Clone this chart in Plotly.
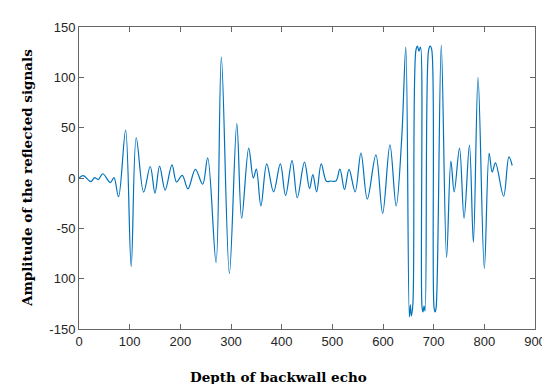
import plotly.graph_objects as go

# Depth (x) and amplitude (y) of the reflected signal, read at the turning points
depth = [0, 8.5, 23, 31, 38, 47, 62, 69, 78, 92, 103, 113, 127.5, 140.6, 150, 159, 170,
         183.5, 192.6, 203.7, 215, 229.7, 244, 254, 270.5, 281, 296.8, 311.5, 321, 335,
         344, 350, 359, 370.5, 384, 397.4, 407.7, 420.5, 430.8, 445, 455, 461.5, 469,
         478, 488.5, 497, 507, 515, 524, 533, 545, 556.5, 569, 586, 599.3, 613.7, 626,
         637, 645, 652, 654, 656, 659, 665, 668, 671, 674, 677, 679, 681, 683, 690, 693,
         696, 701, 703, 705, 715, 725.5, 734, 740.5, 751, 760, 770.6, 778.4, 787.6, 800,
         809.5, 815.5, 822, 838, 848.5, 855]
amplitude = [0, 2.3, -3.6, 0.3, -1.6, 4.2, -4.6, 0.3, -18.6, 47.7, -88, 40, -14, 11.4,
             -15, 11.8, -12, 13, -4, 2.6, -10.8, 8.5, -6.2, 20, -84, 120, -94.8, 54, -40,
             29.7, 0, 8.8, -27.8, 14, -13.7, 14, -17.3, 17.3, -19.6, 15.7, -10.5, 3.3,
             -13.7, 14, -3.3, -3, -3, 8.8, -11.4, 8.5, -13.7, 24.8, -21, 22.9, -35, 33,
             -27.8, 40, 130, -138, -126, -137, -125, 127, 131, 126, 130, -128, -133, -127,
             -132, 127, 131, 128, -130, -133, -128, 132, -79, 16.7, -13.7, 29.7, -40, 32.7,
             -64, 99.7, -90, 24.5, 5.9, 15, -18, 21, 12.4]

y_tickvals = [-150, -100, -50, 0, 50, 100, 150]
y_ticktext = ["-150", "100", "-50", "0", "50", "100", "150"]
x_tickvals = [0, 100, 200, 300, 400, 500, 600, 700, 800, 900]

fig = go.Figure()
fig.add_trace(go.Scatter(x=depth, y=amplitude, mode="lines",
                         line=dict(color="#0072BD", width=1.2, shape="spline", smoothing=1.0),
                         hoverinfo="skip"))

axis_common = dict(showgrid=False, zeroline=False, showline=True, linecolor="#666666",
                   linewidth=1, mirror="ticks", ticks="inside", ticklen=5,
                   tickcolor="#666666", tickfont=dict(family="Liberation Sans", size=13,
                                                      color="#262626"))
fig.update_xaxes(range=[0, 900], tickvals=x_tickvals, **axis_common)
fig.update_yaxes(range=[-150, 150], tickvals=y_tickvals, ticktext=y_ticktext, **axis_common)

fig.update_layout(
    width=550, height=384,
    margin=dict(l=71, r=18, t=15, b=63),
    paper_bgcolor="white", plot_bgcolor="white",
    showlegend=False,
    annotations=[
        dict(text="<b>Depth of backwall echo</b>", xref="paper", yref="paper",
             x=0.4377, y=-0.160, xanchor="center", yanchor="middle", showarrow=False,
             font=dict(family="DejaVu Serif", size=13.5, color="black")),
        dict(text="<b>Amplitude of the reflected signals</b>", xref="paper", yref="paper",
             x=-0.114, y=0.5, xanchor="center", yanchor="middle", showarrow=False,
             textangle=-90,
             font=dict(family="DejaVu Serif", size=13.5, color="black")),
    ],
)

fig.write_html("out.html")
